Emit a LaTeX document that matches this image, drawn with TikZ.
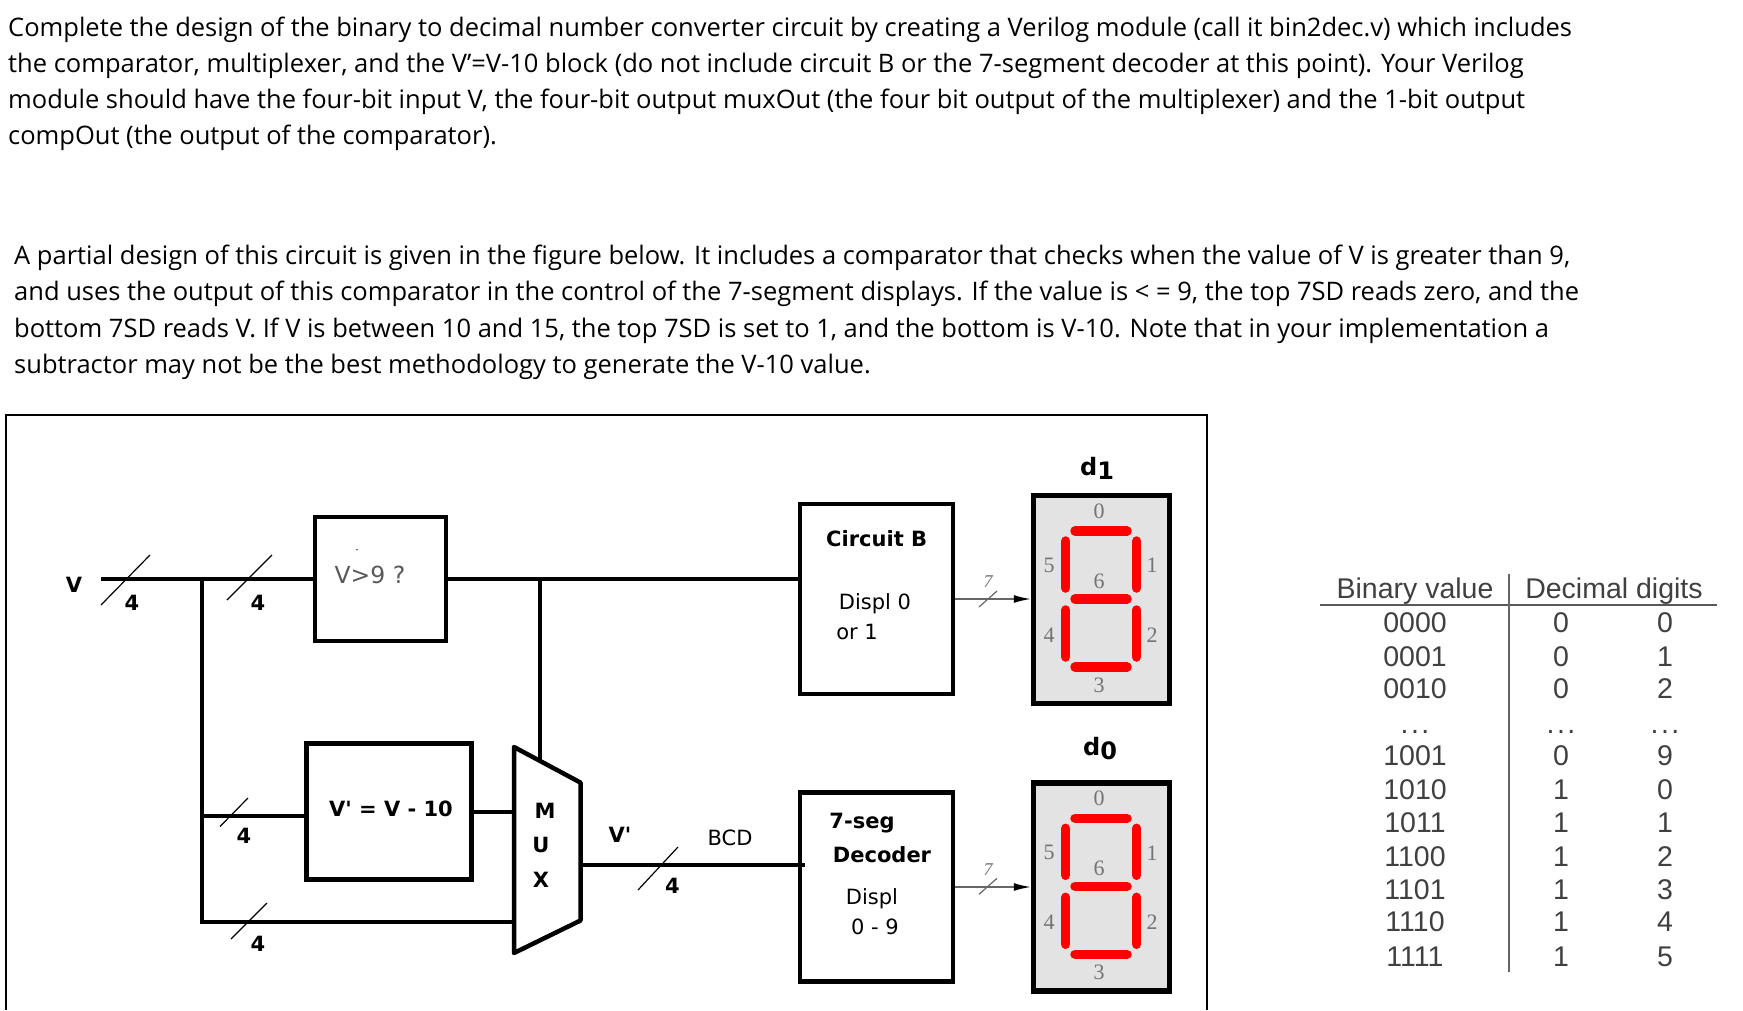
\documentclass[tikz,border=0pt]{standalone}
\usepackage{fontspec}
\setmainfont{Open Sans}
\newfontfamily\dvfont{DejaVu Sans}
\newfontfamily\hvfont{Liberation Sans}
\newfontfamily\rmnfont{Liberation Serif}
\usetikzlibrary{arrows.meta}

\begin{document}
\begin{tikzpicture}[x=1pt,y=-1pt,
    para/.style={anchor=north west,align=left,inner sep=0pt,font=\fontsize{25.5}{36.2}\selectfont},
    box/.style={draw,line width=4.5pt,minimum width=#1,inner sep=0pt},
    wire/.style={line width=4pt},
    thin wire/.style={line width=1.5pt,draw=black!60},
    cut/.style={line width=1.2pt},
    wd/.style={inner sep=0pt,font=\dvfont\fontsize{21}{21}\selectfont\bfseries},
    lbl/.style={inner sep=0pt,font=\dvfont\fontsize{21}{21}\selectfont},
    seg/.style={line width=9.5pt,red,line cap=round},
    segno/.style={inner sep=0pt,text=black!55,font=\rmnfont\fontsize{22}{22}\selectfont},
    tb/.style={inner sep=0pt,text=black!75,font=\hvfont\fontsize{28.5}{28.5}\selectfont},
    arj/.style={thin wire,-{Latex[length=17pt,width=8pt,black]}}]
  \useasboundingbox (0,0) rectangle (1743,1010);

  % text above the figure
  \node[para] (txta) at (8,16.5) {Complete the design of the binary to decimal number converter circuit by creating a Verilog module (call it bin2dec.v) which includes\\
    the comparator, multiplexer, and the V’=V-10 block (do not include circuit B or the 7-segment decoder at this point). Your Verilog\\
    module should have the four-bit input V, the four-bit output muxOut (the four bit output of the multiplexer) and the 1-bit output\\
    compOut (the output of the comparator).};
  \node[para] (txtb) at (14,245) {A partial design of this circuit is given in the figure below. It includes a comparator that checks when the value of V is greater than 9,\\
    and uses the output of this comparator in the control of the 7-segment displays. If the value is < = 9, the top 7SD reads zero, and the\\
    bottom 7SD reads V. If V is between 10 and 15, the top 7SD is set to 1, and the bottom is V-10. Note that in your implementation a\\
    subtractor may not be the best methodology to generate the V-10 value.};

  % frame, open at the bottom
  \draw[line width=1.5pt] (6,1010) -- (6,415) -- (1207,415) -- (1207,1010);

  % blocks
  \node[box=131pt,minimum height=124pt] (compar) at (380.5,579) {};
  \node[box=165pt,minimum height=136pt] (vsub) at (389,811.5) {};
  \node[box=153pt,minimum height=190pt] (circb) at (876.5,599) {};
  \node[box=153pt,minimum height=189pt] (deco) at (876.5,887) {};
  \draw[line width=4.5pt,line join=round] (514,747) -- (580.5,782.6) -- (580.5,920.5) -- (514,953) -- cycle;

  % wires
  \coordinate (vin) at (101,579);
  \coordinate (jtop) at (202,579);
  \coordinate (jmid) at (202,816);
  \coordinate (jbot) at (202,922);
  \coordinate (jsel) at (540,579);
  \coordinate (muxa) at (514,811.5);
  \coordinate (muxb) at (514,922);
  \coordinate (muxc) at (580.5,865.4);
  \coordinate (muxs) at (540,761);
  \coordinate (decin) at (805,865.4);
  \draw[wire] (vin) -- (compar.west);
  \draw[wire] (jtop) -- (jbot) -- (muxb);
  \draw[wire] (jmid) -- (vsub.west |- jmid);
  \draw[wire] (vsub.east) -- (muxa);
  \draw[wire] (compar.east) -- (circb.west |- compar.east);
  \draw[wire] (jsel) -- (muxs);
  \draw[wire] (muxc) -- (decin);

  % bus marks
  \foreach \nm/\xa/\ya/\xb/\yb/\xl/\yl in {a/101/605/150/555/132/603,b/227/600/272/555/258/603,
      c/220/826.5/248/798/244/836,d/231/939/267/903/258/944,e/638/890/678/847/672.5/886}{
    \draw[cut] (\xa,\ya) -- (\xb,\yb);
    \node[wd] (bus\nm) at (\xl,\yl) {4};
  }

  % labels of the blocks
  \node[wd] (vname) at (74,585) {V};
  \node[lbl,text=black!65,font=\dvfont\fontsize{23.5}{23.5}\selectfont] (comptxt) at (370,575) {V>9 ?};
  \fill[black!60] (357,549.5) circle (1pt);
  \node[wd] (subtxt) at (391,809) {V' = V - 10};
  \node[wd] (muxm) at (545,811) {M};
  \node[wd] (muxu) at (541,845) {U};
  \node[wd] (muxx) at (541,880) {X};
  \node[wd] (vprime) at (620,835) {V'};
  \node[lbl] (bcd) at (730,838) {BCD};
  \node[wd] (circtxt) at (876.7,539) {Circuit B};
  \node[lbl] (dispa) at (875,603.5) {Displ 0};
  \node[lbl] (dispb) at (857,632) {or 1};
  \node[wd] (dectxt) at (862,823) {7-seg};
  \node[wd] (dectxb) at (882,855) {Decoder};
  \node[lbl] (dispc) at (872,899) {Displ};
  \node[lbl] (dispd) at (875,927) {0 - 9};

  % the two displays
  \foreach \nm/\dy/\ttl/\lx/\ly in {d1/0/1/1097/468,d0/287.3/0/1100/749}{
    \node[wd,font=\dvfont\fontsize{24}{24}\selectfont\bfseries] (ttl\nm) at (\lx,\ly) {d\raisebox{-4pt}{\ttl}};
    \begin{scope}[shift={(0,\dy)}]
      \node[box=136pt,minimum height=208pt,line width=5.5pt,fill=black!11] (\nm) at (1101.5,599.7) {};
      \draw[seg] (1075,531) -- (1127,531);
      \draw[seg] (1075,599) -- (1127,599);
      \draw[seg] (1075,667) -- (1127,667);
      \foreach \x in {1065.7,1136.7}{
        \draw[seg] (\x,541) -- (\x,588);
        \draw[seg] (\x,610) -- (\x,657);
      }
      \foreach \n/\x/\y in {0/1099/511,5/1049/565.5,1/1152/565.5,6/1099/581,
          4/1049/635,2/1152/635,3/1099/685.5}
        \node[segno] (\nm s\n) at (\x,\y) {\n};
    \end{scope}
  }
  \draw[arj] (circb.east) -- (circb.east -| d1.west);
  \draw[arj] (deco.east) -- (deco.east -| d0.west);
  \foreach \nm/\dy in {a/0,b/287.3}{
    \draw[cut,black!60] (979,607+\dy) -- (997,591+\dy);
    \node[segno,font=\rmnfont\itshape\fontsize{18}{18}\selectfont] (seven\nm) at (988,582+\dy) {7};
  }

  % table
  \node[tb] (hbin) at (1415,591) {Binary value};
  \node[tb] (hdec) at (1614,591) {Decimal digits};
  \draw[line width=1.5pt,black!65] (1320,605) -- (1717,605);
  \draw[line width=2pt,black!60] (1509,574) -- (1509,972);
  \foreach \y/\b/\p/\q in {622.5/0000/0/0,656.5/0001/0/1,689/0010/0/2,756/1001/0/9,790/1010/1/0,
      823/1011/1/1,856.5/1100/1/2,890/1101/1/3,922/1110/1/4,956.5/1111/1/5}{
    \node[tb] at (1415,\y) {\b};
    \node[tb] at (1561,\y) {\p};
    \node[tb] at (1665,\y) {\q};
  }
  \foreach \x in {1415,1561,1665}
    \node[tb] at (\x,732) {.\hspace{2.5pt}.\hspace{2.5pt}.};
\end{tikzpicture}
\end{document}
